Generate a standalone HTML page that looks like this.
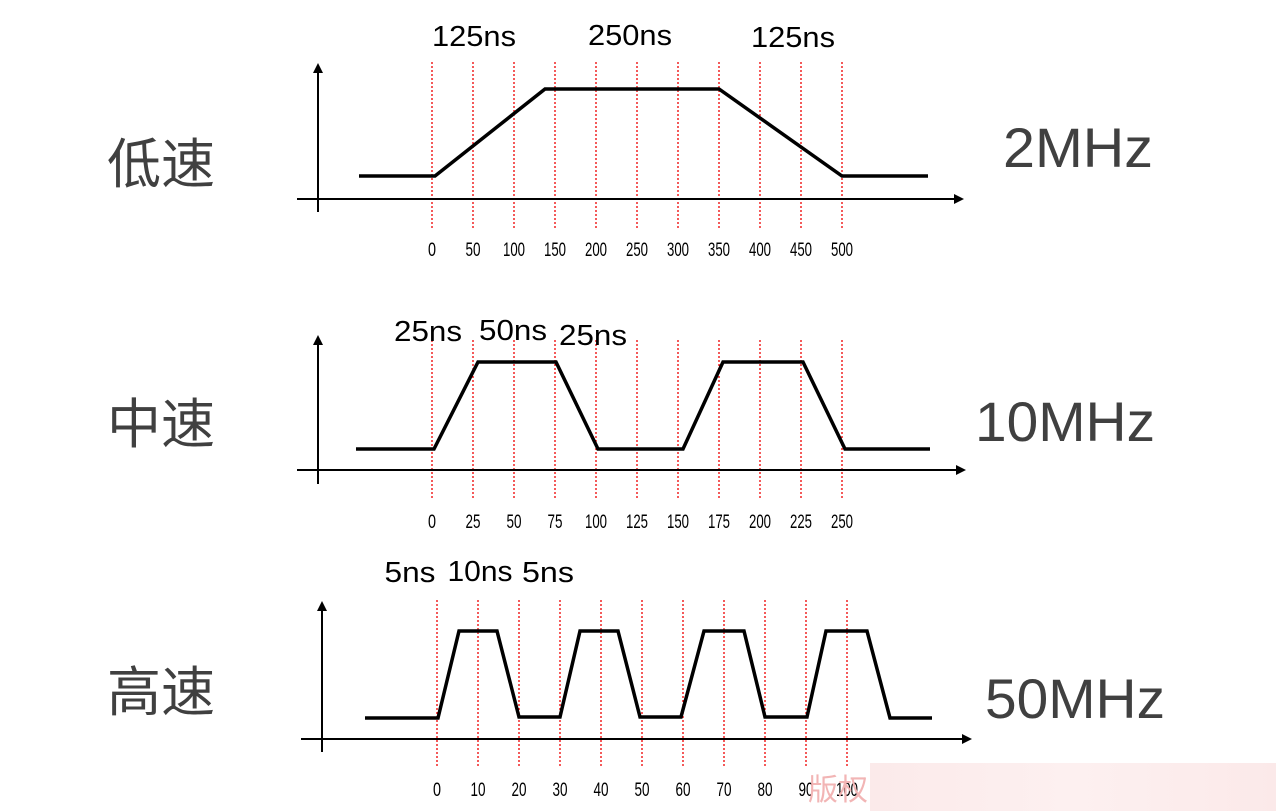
<!DOCTYPE html>
<html><head><meta charset="utf-8"><style>
html,body{margin:0;padding:0;background:#fff;}
svg{display:block;}
.t{font-family:"Liberation Sans",sans-serif;fill:#000;}
.big{font-family:"Liberation Sans","Noto Sans CJK SC",sans-serif;fill:#404040;}
</style></head><body>
<svg width="1276" height="811" viewBox="0 0 1276 811" xmlns="http://www.w3.org/2000/svg">
<defs>
<marker id="ar" markerWidth="10" markerHeight="10" refX="8" refY="5" orient="auto" markerUnits="userSpaceOnUse">
<path d="M0,0 L10,5 L0,10 z" fill="#000"/></marker>
<linearGradient id="wm" x1="0" x2="1"><stop offset="0" stop-color="#fbeaea"/><stop offset="0.5" stop-color="#fdf0f0"/><stop offset="1" stop-color="#fbe9e9"/></linearGradient>
</defs>
<rect x="870" y="763" width="406" height="48" fill="url(#wm)"/>
<g stroke="#e00" stroke-width="1.3" stroke-dasharray="2,2">
<path d="M432 62V228M473 62V228M514 62V228M555 62V228M596 62V228M637 62V228M678 62V228M719 62V228M760 62V228M801 62V228M842 62V228"/>
<path d="M432 340V500M473 340V500M514 340V500M555 340V500M596 340V500M637 340V500M678 340V500M719 340V500M760 340V500M801 340V500M842 340V500"/>
<path d="M437 600V768M478 600V768M519 600V768M560 600V768M601 600V768M642 600V768M683 600V768M724 600V768M765 600V768M806 600V768M847 600V768"/>
</g>
<g stroke="#000" stroke-width="2" fill="none">
<line x1="318" y1="212" x2="318" y2="65" marker-end="url(#ar)"/>
<line x1="297" y1="199" x2="962" y2="199" marker-end="url(#ar)"/>
<line x1="318" y1="484" x2="318" y2="337" marker-end="url(#ar)"/>
<line x1="297" y1="470" x2="964" y2="470" marker-end="url(#ar)"/>
<line x1="322" y1="752" x2="322" y2="603" marker-end="url(#ar)"/>
<line x1="301" y1="739" x2="970" y2="739" marker-end="url(#ar)"/>
</g>
<g stroke="#000" stroke-width="3.5" fill="none" stroke-linejoin="miter">
<polyline points="359,176 435,176 545,89 719,89 842,176 928,176"/>
<polyline points="356,449 434,449 478,362 556,362 598,449 683,449 723,362 803,362 845,449 930,449"/>
<polyline points="365,718 438,718 459,631 497,631 519,717 560,717 580,631 618,631 640,717 681,717 704,631 744,631 765,717 807,717 826,631 867,631 890,718 932,718"/>
</g>
<g class="t" font-size="19" text-anchor="middle">
<text x="432" y="256" textLength="8" lengthAdjust="spacingAndGlyphs">0</text><text x="473" y="256" textLength="15" lengthAdjust="spacingAndGlyphs">50</text><text x="514" y="256" textLength="22" lengthAdjust="spacingAndGlyphs">100</text><text x="555" y="256" textLength="22" lengthAdjust="spacingAndGlyphs">150</text><text x="596" y="256" textLength="22" lengthAdjust="spacingAndGlyphs">200</text><text x="637" y="256" textLength="22" lengthAdjust="spacingAndGlyphs">250</text><text x="678" y="256" textLength="22" lengthAdjust="spacingAndGlyphs">300</text><text x="719" y="256" textLength="22" lengthAdjust="spacingAndGlyphs">350</text><text x="760" y="256" textLength="22" lengthAdjust="spacingAndGlyphs">400</text><text x="801" y="256" textLength="22" lengthAdjust="spacingAndGlyphs">450</text><text x="842" y="256" textLength="22" lengthAdjust="spacingAndGlyphs">500</text>
<text x="432" y="528" textLength="8" lengthAdjust="spacingAndGlyphs">0</text><text x="473" y="528" textLength="15" lengthAdjust="spacingAndGlyphs">25</text><text x="514" y="528" textLength="15" lengthAdjust="spacingAndGlyphs">50</text><text x="555" y="528" textLength="15" lengthAdjust="spacingAndGlyphs">75</text><text x="596" y="528" textLength="22" lengthAdjust="spacingAndGlyphs">100</text><text x="637" y="528" textLength="22" lengthAdjust="spacingAndGlyphs">125</text><text x="678" y="528" textLength="22" lengthAdjust="spacingAndGlyphs">150</text><text x="719" y="528" textLength="22" lengthAdjust="spacingAndGlyphs">175</text><text x="760" y="528" textLength="22" lengthAdjust="spacingAndGlyphs">200</text><text x="801" y="528" textLength="22" lengthAdjust="spacingAndGlyphs">225</text><text x="842" y="528" textLength="22" lengthAdjust="spacingAndGlyphs">250</text>
<text x="437" y="796" textLength="8" lengthAdjust="spacingAndGlyphs">0</text><text x="478" y="796" textLength="15" lengthAdjust="spacingAndGlyphs">10</text><text x="519" y="796" textLength="15" lengthAdjust="spacingAndGlyphs">20</text><text x="560" y="796" textLength="15" lengthAdjust="spacingAndGlyphs">30</text><text x="601" y="796" textLength="15" lengthAdjust="spacingAndGlyphs">40</text><text x="642" y="796" textLength="15" lengthAdjust="spacingAndGlyphs">50</text><text x="683" y="796" textLength="15" lengthAdjust="spacingAndGlyphs">60</text><text x="724" y="796" textLength="15" lengthAdjust="spacingAndGlyphs">70</text><text x="765" y="796" textLength="15" lengthAdjust="spacingAndGlyphs">80</text><text x="806" y="796" textLength="15" lengthAdjust="spacingAndGlyphs">90</text><text x="847" y="796" textLength="22" lengthAdjust="spacingAndGlyphs">100</text>
</g>
<g class="t" font-size="29" text-anchor="middle">
<text x="474" y="46" textLength="84" lengthAdjust="spacingAndGlyphs">125ns</text><text x="630" y="45" textLength="84" lengthAdjust="spacingAndGlyphs">250ns</text><text x="793" y="47" textLength="84" lengthAdjust="spacingAndGlyphs">125ns</text>
<text x="428" y="341" textLength="68" lengthAdjust="spacingAndGlyphs">25ns</text><text x="513" y="340" textLength="68" lengthAdjust="spacingAndGlyphs">50ns</text><text x="593" y="345" textLength="68" lengthAdjust="spacingAndGlyphs">25ns</text>
<text x="410" y="582" textLength="51" lengthAdjust="spacingAndGlyphs">5ns</text><text x="480" y="581" textLength="65" lengthAdjust="spacingAndGlyphs">10ns</text><text x="548" y="582" textLength="52" lengthAdjust="spacingAndGlyphs">5ns</text>
</g>
<text x="838" y="800" font-family="Noto Sans CJK SC,sans-serif" font-size="30" fill="#f2b5b5" text-anchor="middle">版权</text>
<g class="big" font-size="54">
<text x="107" y="183">低速</text>
<text x="107" y="443">中速</text>
<text x="107" y="711">高速</text>
</g>
<g class="big" font-size="56">
<text x="1003" y="167" textLength="150" lengthAdjust="spacingAndGlyphs">2MHz</text>
<text x="975" y="441" textLength="180" lengthAdjust="spacingAndGlyphs">10MHz</text>
<text x="985" y="718" textLength="180" lengthAdjust="spacingAndGlyphs">50MHz</text>
</g>
</svg>
</body></html>
